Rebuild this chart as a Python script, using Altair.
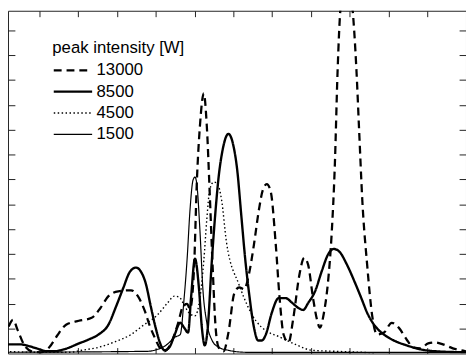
import altair as alt
import pandas as pd

# ---------------- data ----------------
series_names = ["13000", "8500", "4500", "1500"]

x_13000 = [1.4, 7.5, 12.6, 17.7, 23.8, 31.9, 42.0, 50.1, 58.3, 67.4, 80.6, 93.8, 102.9, 111.1,
           121.2, 134.4, 141.5, 148.6, 153.7, 158.8, 163.8, 168.9, 176.0, 183.1, 188.2, 192.3,
           195.3, 199.4, 202.4, 205.5, 209.5, 212.6, 215.6, 218.7, 221.7, 224.8, 229.8, 234.9,
           241.0, 246.1, 251.1, 256.2, 261.3, 266.4, 270.4, 274.5, 278.6, 283.7, 287.7, 291.8,
           296.9, 301.9, 308.0, 313.1, 317.1, 322.2, 326.3, 329.3, 333.4, 337.5, 341.5, 344.6,
           347.6, 350.6, 356.7, 362.8, 366.9, 369.9, 373.0, 378.1, 383.1, 388.2, 395.3, 403.4,
           410.6, 418.7, 425.8, 432.9, 441.0, 448.1, 456.2, 466.4, 480.0]
y_13000 = [16.1, 26.0, 33.9, 23.0, 9.2, 2.2, 1.2, 6.2, 18.1, 28.9, 32.9, 35.9, 45.8, 57.7,
           62.6, 63.6, 57.7, 42.8, 28.0, 16.1, 6.2, 2.2, 11.1, 30.9, 47.8, 49.8,
           44.8, 85.4, 174.5, 228.9, 261.6, 228.9, 161.6, 85.4, 26.0, 6.2, 2.2, 21.0,
           60.6, 66.6, 64.6, 80.4, 110.1, 144.8, 164.6, 170.5, 162.6, 110.1, 55.7, 19.1,
           11.1, 35.9, 78.5, 96.3, 89.4, 55.7, 33.9, 26.0, 40.8, 70.5, 122.0, 187.4,
           286.4, 347.8, 377.5, 347.8, 286.4, 221.0, 154.7, 88.4, 38.9, 19.1, 21.0, 30.9,
           26.0, 14.1, 6.2, 5.2, 10.1, 11.1, 9.2, 5.2, 2.2]

x_8500 = [1.4, 9.5, 19.7, 29.8, 40.0, 47.1, 55.2, 65.4, 80.6, 90.8, 100.9, 111.1, 119.2, 126.3,
          133.4, 139.5, 144.6, 149.6, 154.7, 159.8, 164.9, 168.9, 174.0, 179.1, 185.2, 189.2,
          193.3, 196.3, 200.4, 204.5, 207.5, 210.5, 213.6, 217.6, 221.7, 224.8, 228.8, 234.9,
          240.0, 244.0, 248.1, 252.2, 256.2, 261.3, 265.4, 269.4, 273.5, 279.6, 286.7, 293.8,
          300.9, 307.0, 312.1, 317.1, 324.3, 331.4, 337.5, 343.5, 349.6, 356.7, 364.9, 372.0,
          378.1, 385.1, 395.3, 405.5, 418.7, 432.9, 449.1, 480.0]
y_8500 = [7.2, 9.2, 9.2, 7.2, 4.2, 2.2, 2.2, 4.2, 10.1, 14.1, 19.1, 29.0, 47.8, 65.6,
          82.4, 86.4, 82.4, 70.5, 47.8, 26.0, 9.2, 3.2, 6.2, 18.1, 30.9, 26.0,
          21.0, 55.7, 95.3, 65.6, 26.0, 8.2, 26.0, 90.3, 144.8, 177.5, 204.2, 221.0,
          209.2, 184.4, 139.8, 95.3, 60.6, 26.0, 13.1, 13.1, 19.1, 40.8, 55.7, 55.7,
          50.7, 45.8, 43.8, 50.7, 62.6, 83.4, 99.3, 105.2, 102.2, 90.3, 72.5, 55.7,
          40.8, 29.0, 19.1, 13.1, 8.2, 4.2, 2.2, 1.2]

x_4500 = [1.4, 40.0, 70.5, 83.6, 100.9, 116.1, 134.4, 146.6, 161.8, 172.0, 179.1, 184.2,
          188.2, 194.3, 200.4, 205.5, 209.5, 212.6, 215.6, 219.7, 223.7, 227.8, 232.9,
          246.1, 263.3, 273.5, 286.7, 303.9, 321.2, 344.6, 372.0, 385.1]
y_4500 = [2.2, 1.2, 1.2, 3.2, 6.2, 11.1, 19.1, 28.0, 38.9, 50.7, 57.7, 56.7,
          50.7, 40.8, 37.9, 55.7, 93.3, 134.9, 164.6, 172.5, 170.5, 154.7, 112.0,
          68.6, 32.9, 23.0, 17.1, 9.2, 3.2, 2.2, 1.2, 0.5]

x_1500 = [1.4, 151.7, 161.8, 168.9, 174.0, 179.1, 185.2, 189.2, 192.3, 195.3, 198.4, 200.4,
          202.4, 205.5, 208.5, 212.6, 217.6, 224.8, 234.9, 253.2, 480.0]
y_1500 = [1.2, 2.2, 4.2, 7.2, 11.1, 16.1, 19.1, 55.7, 95.3, 144.8, 174.5, 177.5,
          169.6, 124.0, 65.6, 30.9, 14.1, 6.2, 3.2, 1.2, 1.2]

x_ticks = [40, 80, 120, 160, 200, 240, 280, 320, 360, 400, 440]
y_ticks = [25, 50, 75, 100, 125, 150, 175, 200, 225, 250, 275, 300, 325]

# ---------------- build table ----------------
rows = []
for name, xs, ys in [("13000", x_13000, y_13000), ("8500", x_8500, y_8500),
                     ("4500", x_4500, y_4500), ("1500", x_1500, y_1500)]:
    for xv, yv in zip(xs, ys):
        rows.append({"series": name, "x": xv, "y": yv})
df = pd.DataFrame(rows)

x_dom = [7.5, 480]
y_dom = [0, 344.8]

dash_styles = [[8, 5], [1, 0], [1.5, 2.5], [1, 0]]
widths = [2.3, 2.4, 1.4, 1.2]

FONT = "Liberation Sans"

legend = alt.Legend(
    title="peak intensity [W]", orient="none", legendX=45, legendY=30,
    symbolType="stroke", symbolSize=1521, symbolStrokeColor="black",
    clipHeight=17, rowPadding=3.7, labelFontSize=17, titleFontSize=17,
    labelFont=FONT, titleFont=FONT, titleFontWeight="normal",
    labelColor="black", titleColor="black", labelOffset=3, titlePadding=5,
    padding=0, symbolOffset=0,
)

xs_scale = alt.Scale(domain=x_dom, nice=False, zero=False)
ys_scale = alt.Scale(domain=y_dom, nice=False, zero=False)

def xaxis(orient):
    return alt.Axis(orient=orient, values=x_ticks, labels=False, domain=False, grid=False,
                    ticks=True, tickSize=6, offset=-6, title=None, tickColor="#222")

def yaxis(orient):
    return alt.Axis(orient=orient, values=y_ticks, labels=False, domain=False, grid=False,
                    ticks=True, tickSize=7, offset=-7, title=None, tickColor="#222")

lines = alt.Chart(df).mark_line(interpolate="monotone", clip=True, color="black").encode(
    x=alt.X("x:Q", scale=xs_scale, axis=xaxis("bottom")),
    y=alt.Y("y:Q", scale=ys_scale, axis=yaxis("left")),
    strokeDash=alt.StrokeDash("series:O",
                              scale=alt.Scale(type="ordinal", domain=series_names, range=dash_styles),
                              legend=legend),
    strokeWidth=alt.StrokeWidth("series:O",
                                scale=alt.Scale(type="ordinal", domain=series_names, range=widths),
                                legend=legend),
)

other_axes = alt.Chart(df).mark_line(opacity=0).encode(
    x=alt.X("x:Q", scale=xs_scale, axis=xaxis("top")),
    y=alt.Y("y:Q", scale=ys_scale, axis=yaxis("right")),
    detail="series:N",
)

chart = (
    alt.layer(lines, other_axes)
    .resolve_axis(x="independent", y="independent")
    .properties(width=465.4, height=348.25, padding=0,
                autosize=alt.AutoSizeParams(type="none"))
    .configure_view(stroke="#222", strokeWidth=1)
)

chart.save("out.html", embed_options={"renderer": "svg", "actions": False})
